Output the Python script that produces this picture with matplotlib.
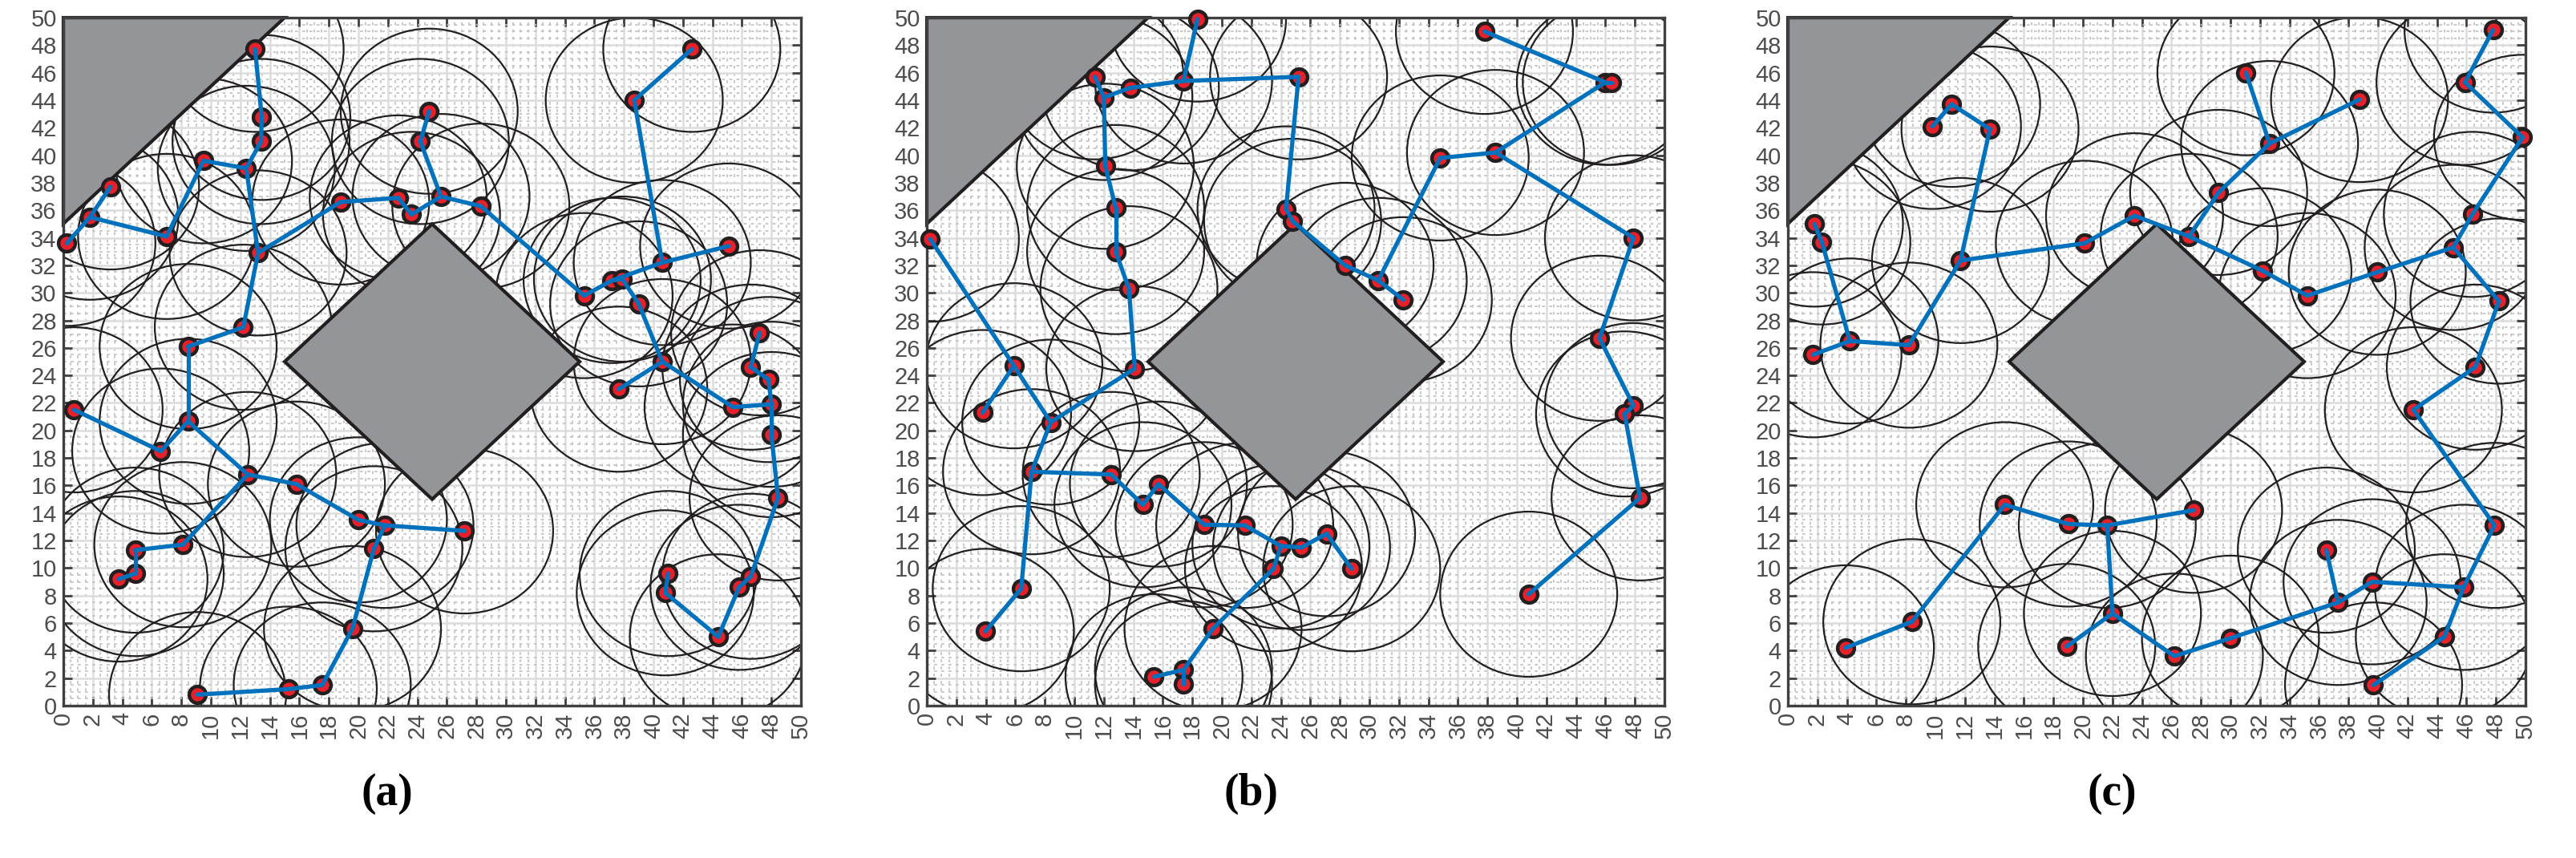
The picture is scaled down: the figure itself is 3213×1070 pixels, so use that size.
import matplotlib
matplotlib.use("Agg")
import matplotlib.pyplot as plt
from matplotlib.patches import Polygon, Circle
from matplotlib.ticker import MultipleLocator

# ---- data: node x, node y, parent index (-1 = root)
a_x = [0.24, 1.8, 3.2, 7.0, 9.5, 12.4, 13.4, 13.45, 13.0, 13.2, 12.2, 8.46, 18.8, 22.7,
       23.6, 25.6, 24.2, 24.8, 28.3, 35.3, 37.2, 40.6, 45.1, 38.7, 42.6, 37.9, 39.0, 40.6,
       37.65, 45.4, 48.0, 47.8, 46.6, 47.2, 48.0, 48.45, 46.6, 45.8, 44.4, 40.8, 41.0,
       8.46, 6.6, 0.73, 12.5, 15.8, 20.0, 21.8, 27.2, 21.05, 19.6, 17.55, 15.25, 9.1,
       8.1, 4.87, 4.87, 3.77]
a_y = [33.6, 35.5, 37.7, 34.1, 39.6, 39.05, 41.0, 42.75, 47.7, 32.9, 27.5, 26.1, 36.6, 36.9,
       35.7, 37.0, 41.0, 43.2, 36.3, 29.8, 30.9, 32.2, 33.4, 44.0, 47.7, 31.0, 29.2, 25.0,
       23.0, 21.7, 21.9, 23.7, 24.6, 27.1, 19.7, 15.1, 9.4, 8.6, 5.0, 8.2, 9.6,
       20.66, 18.5, 21.5, 16.8, 16.1, 13.5, 13.1, 12.7, 11.4, 5.6, 1.5, 1.2, 0.8,
       11.7, 11.3, 9.6, 9.2]
a_parent = [-1, 0, 1, 1, 3, 4, 5, 6, 7, 5, 9, 10, 9, 12,
            13, 14, 15, 16, 15, 18, 19, 20, 21, 21, 23, 20, 25, 26,
            27, 27, 29, 30, 31, 32, 30, 34, 35, 36, 37, 38, 39,
            11, 41, 42, 41, 44, 45, 46, 47, 47, 49, 50, 51, 52,
            44, 54, 55, 56]

b_x = [0.24, 5.9, 3.78, 8.4, 14.1, 13.7, 12.8, 12.8, 12.1, 12.0, 11.4, 13.8, 17.4, 18.35,
       25.2, 24.35, 24.8, 28.35, 30.6, 32.3, 34.8, 38.55, 46.0, 46.4, 37.8, 47.9, 45.6,
       47.9, 47.3, 48.35, 40.8, 7.1, 12.5, 14.65, 15.7, 18.8, 21.55, 24.0, 25.4, 27.1,
       28.8, 23.5, 19.4, 17.4, 15.4, 17.4, 6.4, 3.97]
b_y = [33.9, 24.7, 21.3, 20.6, 24.5, 30.3, 33.0, 36.2, 39.2, 44.2, 45.7, 44.9, 45.4, 49.9,
       45.7, 36.1, 35.2, 32.0, 30.9, 29.5, 39.8, 40.2, 45.3, 45.3, 49.0, 34.0, 26.7,
       21.8, 21.2, 15.1, 8.1, 17.0, 16.8, 14.6, 16.1, 13.15, 13.1, 11.6, 11.5, 12.5,
       9.95, 9.95, 5.6, 2.6, 2.1, 1.6, 8.5, 5.4]
b_parent = [-1, 0, 1, 1, 3, 4, 5, 6, 7, 8, 9, 9, 11, 12,
            12, 14, 15, 16, 17, 18, 18, 20, 21, 22, 22, 21, 25,
            26, 27, 28, 29, 3, 31, 32, 33, 34, 35, 36, 37, 38,
            39, 37, 41, 42, 43, 43, 31, 46]

c_x = [1.7, 4.2, 2.3, 1.8, 8.2, 11.7, 13.7, 11.1, 9.8, 20.1, 23.5, 27.2, 29.2, 32.65,
       31.05, 38.75, 32.2, 35.2, 39.95, 45.1, 46.4, 49.8, 45.9, 47.8, 48.2, 46.6, 42.4,
       47.9, 45.8, 44.5, 39.7, 39.6, 37.3, 36.5, 30.0, 26.2, 22.0, 18.9, 21.65, 27.5,
       19.0, 14.7, 8.4, 3.9]
c_y = [25.5, 26.5, 33.7, 35.0, 26.2, 32.35, 41.9, 43.7, 42.1, 33.6, 35.6, 34.1, 37.3, 40.85,
       46.0, 44.05, 31.6, 29.8, 31.5, 33.3, 35.7, 41.3, 45.3, 49.1, 29.4, 24.6, 21.5,
       13.1, 8.6, 5.0, 1.5, 9.0, 7.5, 11.3, 4.9, 3.6, 6.7, 4.3, 13.1, 14.2,
       13.2, 14.6, 6.1, 4.2]
c_parent = [-1, 0, 1, 2, 1, 4, 5, 6, 7, 5, 9, 10, 11, 12,
            13, 13, 11, 16, 17, 18, 19, 20, 21, 22, 19, 24, 25,
            26, 27, 28, 29, 28, 31, 32, 32, 34, 35, 36, 36, 38,
            38, 40, 41, 42]

panels = [("(a)", a_x, a_y, a_parent),
          ("(b)", b_x, b_y, b_parent),
          ("(c)", c_x, c_y, c_parent)]

triangle = [(0, 35), (0, 50), (15, 50)]
diamond = [(15, 25), (25, 35), (35, 25), (25, 15)]
radius = 6

W, H = 3213, 1070
fig = plt.figure(figsize=(W / 100, H / 100), dpi=100)
plt.rcParams['font.family'] = ['Liberation Sans', 'DejaVu Sans']

lefts = [79, 1156, 2230]
ax_w, ax_h, ax_bottom = 920, 858, 1070 - 880

for left, (label, xs, ys, parent) in zip(lefts, panels):
    ax = fig.add_axes([left / W, ax_bottom / H, ax_w / W, ax_h / H])
    ax.set_xlim(0, 50)
    ax.set_ylim(0, 50)

    # circles around every node
    for x, y in zip(xs, ys):
        ax.add_patch(Circle((x, y), radius, fill=False, ec='#231f20', lw=1.6, zorder=1))

    # obstacles
    for poly in (triangle, diamond):
        ax.add_patch(Polygon(poly, closed=True, fc='#939598', ec='#231f20',
                             lw=3, zorder=2, clip_on=False))

    # nodes, then the tree on top
    ax.plot(xs, ys, 'o', ms=15, mfc='#e8202a', mec='#231f20', mew=3.2,
            ls='none', zorder=3, clip_on=False)
    for i, p in enumerate(parent):
        if p >= 0:
            ax.plot([xs[p], xs[i]], [ys[p], ys[i]], color='#0072bd', lw=3.8,
                    solid_capstyle='round', zorder=4, clip_on=False)

    ax.xaxis.set_major_locator(MultipleLocator(2))
    ax.yaxis.set_major_locator(MultipleLocator(2))
    ax.xaxis.set_minor_locator(MultipleLocator(0.5))
    ax.yaxis.set_minor_locator(MultipleLocator(0.5))
    ax.set_axisbelow(True)
    ax.grid(which='major', color='#dcdcdc', lw=1.8)
    ax.grid(which='minor', color='#c4c4c4', lw=1.3, ls=(0, (2, 3)))
    ax.set_facecolor('white')
    ax.tick_params(which='major', direction='in', length=8, width=2, color='#404040',
                   top=True, right=True, labelsize=21, labelcolor='#4d4d4d', pad=6)
    ax.tick_params(which='minor', length=0)
    for lab in ax.get_xticklabels():
        lab.set_rotation(90)
    for s in ax.spines.values():
        s.set_color('#404040')
        s.set_linewidth(2.4)

    fig.text((left + ax_w / 2 - 56) / W, 0.075, label, ha='center', va='center',
             fontsize=40, fontweight='bold', family=['Liberation Serif', 'DejaVu Serif'])

fig.savefig('out.png', dpi=100, facecolor='white')
